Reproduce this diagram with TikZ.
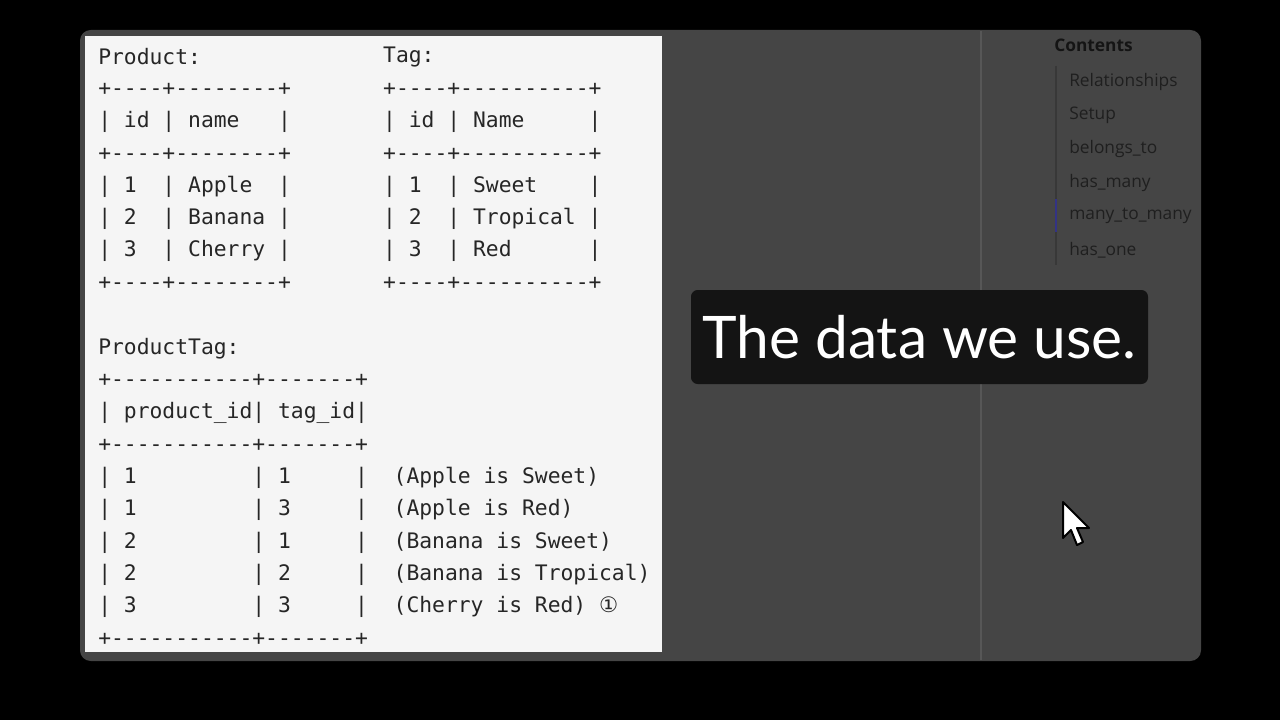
\documentclass[tikz,border=0pt]{standalone}
\usepackage{fontspec}
\setmonofont{DejaVu Sans Mono}
\newfontfamily\capfont{Lato}
\newfontfamily\sidefont{Open Sans}
\newfontfamily\symfont{DejaVu Sans}
\begin{document}
\begin{tikzpicture}[x=0.75pt,y=-0.75pt,
  mono/.style={anchor=west,inner sep=0pt,text=black!85,font=\ttfamily\fontsize{16pt}{16pt}\selectfont},
  side/.style={anchor=west,inner sep=0pt,text=black!88,font=\sidefont\fontsize{13pt}{14pt}\selectfont}]
\fill[black] (0,0) rectangle (1280,720);
\useasboundingbox (0,0) rectangle (1280,720);
\fill[black!73,rounded corners=8pt] (80,30) rectangle (1201,661);
\draw[black!66,line width=0.8pt] (981,31) -- (981,660);
\fill[white!96!black] (85,36) rectangle (662,652);
\def\L#1#2#3{\node[mono] at ({98+#1*12.95},{57+#2*32.36}) {#3};}
\L{0}{0}{Product:}
\L{0}{1}{+----+--------+}
\L{0}{2}{|~id~|~name~~~|}
\L{0}{3}{+----+--------+}
\L{0}{4}{|~1~~|~Apple~~|}
\L{0}{5}{|~2~~|~Banana~|}
\L{0}{6}{|~3~~|~Cherry~|}
\L{0}{7}{+----+--------+}
\L{22}{0}{Tag:}
\L{22}{1}{+----+----------+}
\L{22}{2}{|~id~|~Name~~~~~|}
\L{22}{3}{+----+----------+}
\L{22}{4}{|~1~~|~Sweet~~~~|}
\L{22}{5}{|~2~~|~Tropical~|}
\L{22}{6}{|~3~~|~Red~~~~~~|}
\L{22}{7}{+----+----------+}
\L{0}{9}{ProductTag:}
\L{0}{10}{+-----------+-------+}
\L{0}{11}{|~product\_id|~tag\_id|}
\L{0}{12}{+-----------+-------+}
\L{0}{13}{|~1~~~~~~~~~|~1~~~~~|~~(Apple~is~Sweet)}
\L{0}{14}{|~1~~~~~~~~~|~3~~~~~|~~(Apple~is~Red)}
\L{0}{15}{|~2~~~~~~~~~|~1~~~~~|~~(Banana~is~Sweet)}
\L{0}{16}{|~2~~~~~~~~~|~2~~~~~|~~(Banana~is~Tropical)}
\L{0}{17}{|~3~~~~~~~~~|~3~~~~~|~~(Cherry~is~Red)~{\symfont ①}}
\L{0}{18}{+-----------+-------+}
% caption
\node[fill=black!92,rounded corners=5pt,minimum width=457*0.75pt,minimum height=94*0.75pt,inner sep=0pt,
  text=white,font=\capfont\fontsize{44pt}{46pt}\selectfont] (cap) at (919.5,337) {The data we use.};
% sidebar
\node[side,font=\sidefont\bfseries\fontsize{13pt}{14pt}\selectfont,text=black!92] (hdr) at (1054,45) {Contents};
\draw[black!78,line width=1.5pt] (1056,66) -- (1056,265);
\draw[blue!40!black!80,line width=2pt] (1056,199) -- (1056,232);
\node[side] (s1) at (1069,82) {Relationships};
\node[side] (s2) at (1069,115) {Setup};
\node[side] (s3) at (1069,149) {belongs\_to};
\node[side] (s4) at (1069,183) {has\_many};
\node[side] (s5) at (1069,216) {many\_to\_many};
\node[side] (s6) at (1069,250) {has\_one};
% cursor
\draw[fill=white,draw=black,line width=1.5pt,line join=round]
  (1063,502) -- (1063,538) -- (1071,530) -- (1077,545) -- (1083,542) -- (1077,528) -- (1089,528) -- cycle;
\end{tikzpicture}
\end{document}
